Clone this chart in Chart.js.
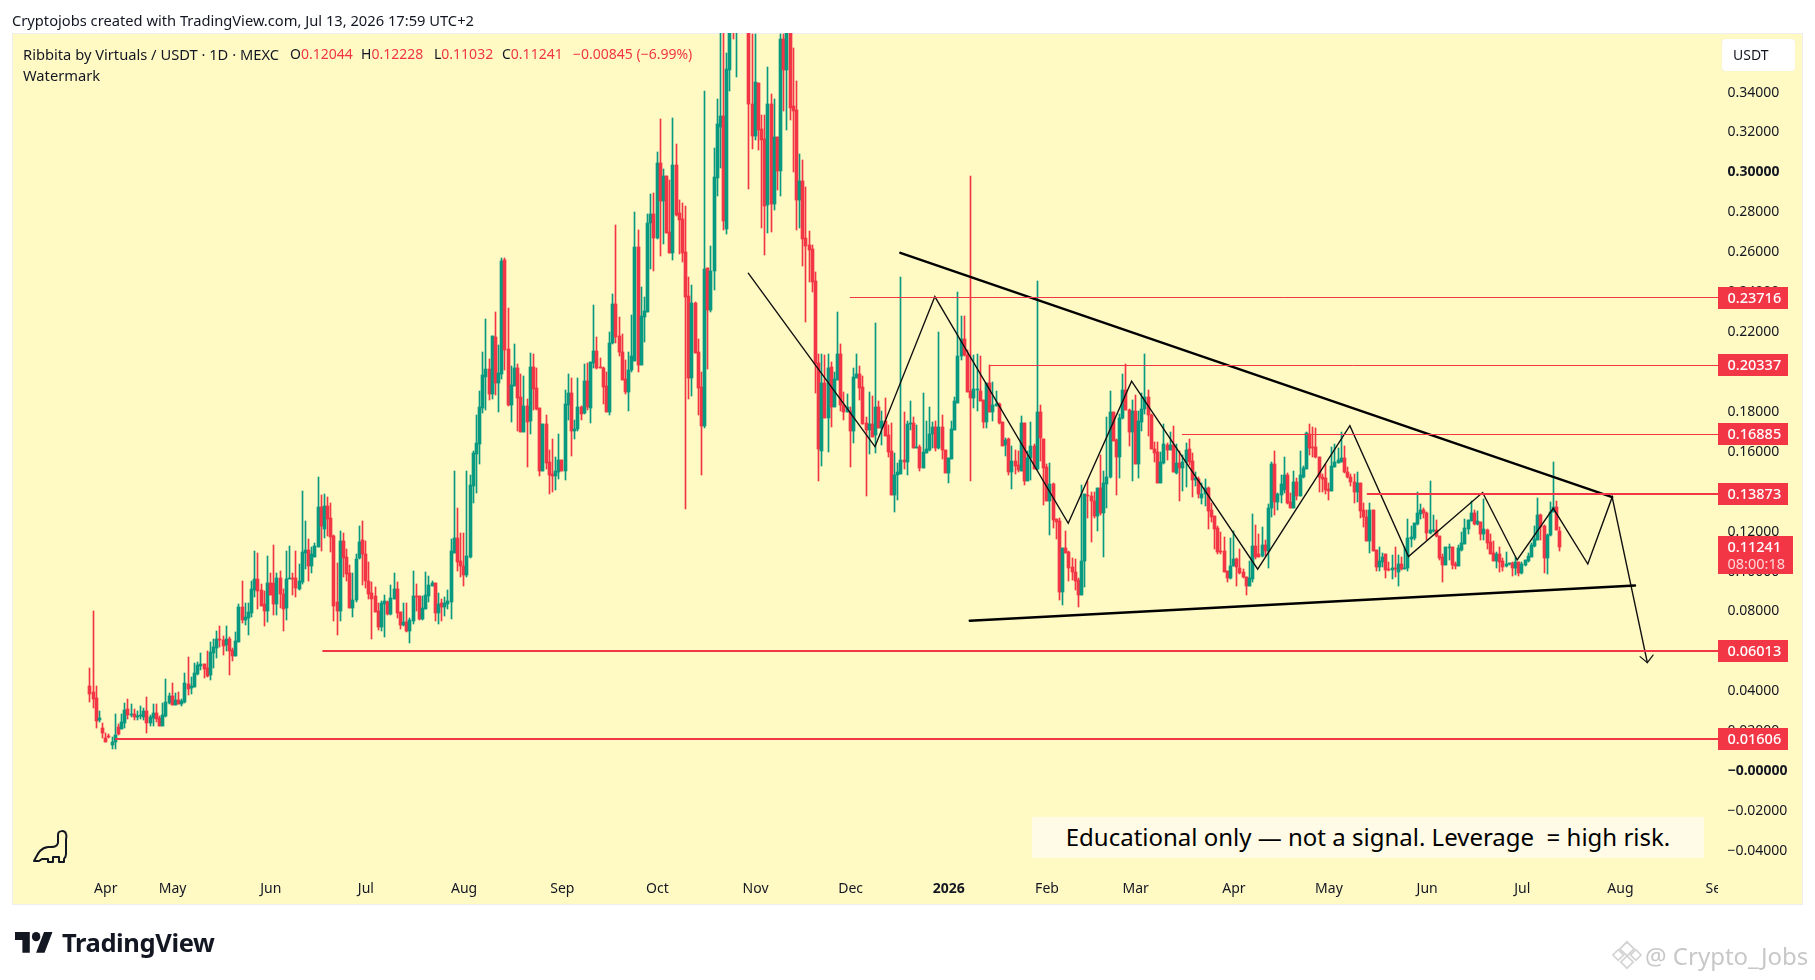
<!DOCTYPE html>
<html><head><meta charset="utf-8">
<script src="https://cdn.jsdelivr.net/npm/chart.js@4"></script>
<style>
html,body{margin:0;padding:0;background:#fff;width:1815px;height:980px;overflow:hidden}
body{font-family:"Noto Sans",sans-serif;color:#131722;position:relative}
#panel{position:absolute;left:13px;top:34px;width:1789px;height:870px;background:#FFF9C4;box-shadow:0 0 0 1px #eeeeee}
canvas{position:absolute;left:0;top:0}
.t{position:absolute;white-space:pre;font-size:14.7px;line-height:18px;z-index:3}
.v{font-size:14px}
.r{color:#F23645}
#usdt{position:absolute;left:1722px;top:39px;width:73px;height:32px;background:#fff;border-radius:4px;z-index:3;font-size:14px;line-height:32px;text-indent:11px;box-shadow:0 0 1px #ddd}
#edu{position:absolute;left:1032px;top:817px;width:672px;height:41px;background:#FFFBE6;z-index:3;text-align:center;font-size:24px;line-height:40px;color:#000;white-space:pre}
#brand{position:absolute;left:62px;top:924px;font-size:25.5px;font-weight:700;line-height:36px;color:#131722;z-index:3;letter-spacing:-.4px}
#wm{position:absolute;left:1645px;top:938px;font-size:24px;line-height:36px;color:#c8c8c8;z-index:3;white-space:pre}
svg{position:absolute;z-index:3}
</style></head><body>
<div id="panel"></div>
<canvas id="c" width="1815" height="980"></canvas>
<div class="t" style="left:12px;top:11px">Cryptojobs created with TradingView.com, Jul 13, 2026 17:59 UTC+2</div>
<div class="t" style="left:23px;top:45px">Ribbita by Virtuals / USDT · 1D · MEXC</div>
<div class="t v" style="left:290px;top:45px">O<span class="r">0.12044</span></div>
<div class="t v" style="left:361px;top:45px">H<span class="r">0.12228</span></div>
<div class="t v" style="left:434px;top:45px">L<span class="r">0.11032</span></div>
<div class="t v" style="left:502px;top:45px">C<span class="r">0.11241</span></div>
<div class="t v r" style="left:573px;top:45px">−0.00845 (−6.99%)</div>
<div class="t" style="left:23px;top:66px">Watermark</div>
<div id="usdt">USDT</div>
<div id="edu">Educational only — not a signal. Leverage  = high risk.</div>
<svg style="left:32px;top:830px" width="36" height="34" viewBox="0 0 36 34" fill="none" stroke="#131722" stroke-width="2" stroke-linejoin="round"><path d="M2 31c3-5 5-13 14-14 6 0 9 0 10-4V5c0-5 7-5 8-1 1 2 0 4 0 6v14c0 2-1 4-2 5v3h-5v-5h-6v5h-5v-3H10l-3 2z"/></svg>
<svg style="left:15px;top:932px" width="38" height="22" viewBox="0 4 36 19" preserveAspectRatio="none" fill="#131722"><path d="M14 22H7V11H0V4h14v18zM28 22h-8l7.5-18h8L28 22z"/><circle cx="20" cy="8" r="4"/></svg>
<div id="brand">TradingView</div>
<svg style="left:1612px;top:940px" width="30" height="30" viewBox="0 0 34 32" fill="none" stroke="#d4d4d4" stroke-width="2"><path d="M17 1l8 8-8 8-8-8zM7 10l6 6-6 6-6-6zM27 10l6 6-6 6-6-6zM17 17l7 7-7 7-7-7z"/></svg>
<div id="wm">@ Crypto_Jobs</div>
<script>
// Daily candles, one list per month: [open, high, low, close]
const apr25=[[.0427,.0515,.0348,.0388],[.0397,.0803,.0317,.0362],[.0367,.0427,.0218,.0253],[.0257,.0302,.0248,.0267],[.0217,.0240,.0168,.0191],[.0166,.0191,.0146,.0146],[.0176,.0186,.0164,.0171],[.0131,.0171,.0111,.0146],[.0146,.0287,.0111,.0181],[.0222,.0237,.0181,.0186],[.0213,.0287,.0213,.0247],[.0243,.0340,.0216,.0307],[.0312,.0362,.0262,.0282],[.0282,.0337,.0272,.0287],[.0287,.0312,.0257,.0272],[.0272,.0302,.0257,.0277],[.0277,.0327,.0262,.0282],[.0272,.0317,.0257,.0302],[.0302,.0372,.0191,.0242],[.0242,.0282,.0227,.0272],[.0267,.0337,.0227,.0292],[.0292,.0337,.0247,.0262],[.0267,.0277,.0227,.0227],[.0227,.0342,.0227,.0282],[.0277,.0462,.0272,.0347],[.0342,.0392,.0337,.0377]];
const may25=[[.0377,.0442,.0332,.0332],[.0332,.0392,.0332,.0357],[.0357,.0397,.0337,.0337],[.0337,.0362,.0327,.0352],[.0347,.0492,.0342,.0442],[.0437,.0572,.0382,.0412],[.0417,.0472,.0387,.0427],[.0422,.0542,.0422,.0492],[.0487,.0547,.0482,.0532],[.0527,.0592,.0507,.0537],[.0537,.0537,.0467,.0512],[.0517,.0602,.0472,.0477],[.0482,.0647,.0457,.0597],[.0592,.0662,.0517,.0622],[.0617,.0702,.0567,.0662],[.0662,.0727,.0622,.0657],[.0657,.0677,.0582,.0627],[.0632,.0727,.0602,.0662],[.0662,.0672,.0482,.0602],[.0607,.0617,.0552,.0577],[.0577,.0697,.0577,.0652],[.0647,.0838,.0647,.0823],[.0823,.0953,.0743,.0758],[.0758,.0843,.0733,.0773],[.0768,.0843,.0682,.0798],[.0793,.0953,.0773,.0913],[.0908,.1103,.0873,.0963],[.0963,.1093,.0813,.0903],[.0908,.0938,.0828,.0828],[.0838,.0903,.0727,.0803],[.0803,.1078,.0748,.0943]];
const jun25=[[.0943,.0993,.0883,.0883],[.0943,.1133,.0783,.0838],[.0838,.0993,.0783,.0968],[.0968,.1003,.0818,.0888],[.0888,.0913,.0703,.0813],[.0818,.1103,.0758,.0963],[.0963,.1128,.0963,.0968],[.0968,.0993,.0883,.0963],[.0968,.1103,.0873,.0918],[.0913,.1038,.0908,.0953],[.0948,.1404,.0938,.1098],[.1093,.1254,.1013,.1108],[.1108,.1164,.0953,.1028],[.1028,.1124,.0993,.1088],[.1073,.1144,.1073,.1129],[.1124,.1474,.1124,.1324],[.1324,.1384,.1104,.1229],[.1214,.1389,.1169,.1329],[.1329,.1374,.1179,.1264],[.1269,.1344,.1098,.1174],[.1179,.1184,.0753,.0828],[.0848,.1043,.0683,.0803],[.0803,.1204,.0753,.1154],[.1154,.1194,.0973,.1068],[.1073,.1113,.0953,.0988],[.0993,.1033,.0818,.0818],[.0818,.0993,.0773,.0858],[.0858,.1088,.0848,.1063],[.1068,.1229,.1063,.1149],[.1159,.1254,.0933,.1088]];
const jul25=[[.1088,.1154,.0918,.0953],[.0953,.1048,.0863,.0888],[.0893,.0948,.0663,.0863],[.0878,.0923,.0798,.0798],[.0803,.0843,.0708,.0723],[.0723,.0853,.0703,.0843],[.0838,.0883,.0673,.0853],[.0848,.0853,.0783,.0788],[.0788,.0933,.0783,.0868],[.0863,.0993,.0863,.0913],[.0913,.0948,.0768,.0793],[.0798,.0798,.0713,.0733],[.0733,.0843,.0728,.0748],[.0748,.0843,.0698,.0703],[.0703,.0768,.0643,.0758],[.0753,.1003,.0738,.0878],[.0878,.0938,.0803,.0873],[.0878,.0878,.0758,.0763],[.0763,.0878,.0758,.0818],[.0813,.0998,.0813,.0883],[.0878,.0978,.0848,.0933],[.0928,.0953,.0928,.0943],[.0943,.0943,.0753,.0793],[.0793,.0893,.0738,.0838],[.0843,.0863,.0753,.0823],[.0823,.0873,.0778,.0843],[.0838,.0908,.0813,.0853],[.0848,.1164,.0763,.1103],[.1093,.1504,.1093,.1169],[.1169,.1319,.1003,.1048],[.1053,.1192,.0975,.1030]];
const aug25=[[.1030,.1192,.0928,.0983],[.0983,.1505,.0975,.1078],[.1075,.1484,.1067,.1434],[.1429,.1605,.1343,.1595],[.1590,.1785,.1396,.1645],[.1640,.1905,.1540,.1825],[.1820,.2101,.1793,.1986],[.1976,.2266,.1810,.2016],[.2016,.2066,.1860,.1890],[.1890,.2181,.1865,.2181],[.2176,.2301,.1885,.1945],[.1945,.2136,.1800,.1996],[.1991,.2572,.1966,.2557],[.2562,.2572,.2011,.2111],[.2116,.2321,.1830,.1835],[.1835,.2031,.1750,.1935],[.1930,.2141,.1930,.2021],[.2021,.2041,.1705,.1870],[.1875,.1991,.1700,.1700],[.1700,.1981,.1700,.1830],[.1830,.1865,.1525,.1750],[.1755,.2096,.1690,.2026],[.2026,.2091,.1810,.1915],[.1920,.2021,.1810,.1815],[.1820,.1820,.1480,.1505],[.1505,.1740,.1505,.1740],[.1740,.1785,.1515,.1545],[.1550,.1610,.1390,.1485],[.1490,.1665,.1400,.1480],[.1480,.1575,.1410,.1505],[.1500,.1690,.1465,.1560]];
const sep25=[[.1560,.1560,.1505,.1505],[.1505,.1910,.1460,.1840],[.1835,.1991,.1760,.1895],[.1895,.1971,.1580,.1705],[.1705,.1760,.1665,.1715],[.1715,.1971,.1705,.1825],[.1825,.1830,.1760,.1790],[.1795,.2041,.1790,.1955],[.1955,.2044,.1810,.1825],[.1820,.2051,.1745,.2051],[.2046,.2336,.2021,.2106],[.2106,.2176,.2016,.2021],[.2026,.2071,.2021,.2021],[.2021,.2026,.1840,.1925],[.1930,.2001,.1800,.1800],[.1800,.2201,.1785,.2146],[.2146,.2391,.2141,.2341],[.2341,.2737,.2146,.2176],[.2181,.2276,.2081,.2101],[.2101,.2191,.1961,.1961],[.1966,.2061,.1890,.1900],[.1900,.2101,.1805,.2011],[.2011,.2286,.2001,.2081],[.2056,.2802,.2056,.2627],[.2627,.2712,.2001,.2036],[.2036,.2426,.2036,.2281],[.2276,.2376,.2151,.2306],[.2301,.2792,.2301,.2747],[.2747,.2893,.2517,.2792],[.2792,.2896,.2508,.2672]];
const oct25=[[.2672,.3103,.2667,.3048],[.3048,.3268,.2582,.2857],[.2857,.3018,.2642,.2983],[.2983,.2983,.2695,.2697],[.2702,.2963,.2597,.2597],[.2597,.3273,.2562,.3038],[.3038,.3143,.2782,.2787],[.2797,.2862,.2592,.2762],[.2767,.2847,.2552,.2597],[.2602,.2832,.1314,.2376],[.2381,.2476,.1865,.1971],[.1971,.2436,.1880,.2346],[.2346,.2351,.2096,.2096],[.2101,.2166,.1785,.1920],[.1925,.2001,.1485,.1730],[.1730,.3408,.1720,.2517],[.2522,.2522,.2016,.2311],[.2311,.2632,.2301,.2507],[.2507,.3123,.2411,.2978],[.2973,.3368,.2882,.3243],[.3228,.3800,.3023,.3283],[.3283,.3800,.2712,.2757],[.2717,.3599,.2692,.3519],[.3514,.4200,.3408,.3950],[.3950,.4400,.3669,.3750],[.3750,.4300,.3479,.4150],[.4150,.4500,.3850,.4000],[.4000,.4600,.3900,.4400],[.4400,.4550,.3850,.3950],[.3950,.4100,.2917,.3343],[.3343,.3694,.3118,.3183]];
const nov25=[[.3183,.3694,.3163,.3453],[.3448,.3448,.3113,.3213],[.3218,.3288,.2722,.3163],[.3168,.3288,.2587,.2832],[.2837,.3529,.2697,.3343],[.3343,.3393,.2702,.2842],[.2842,.3368,.2812,.3178],[.3178,.3178,.2912,.3008],[.3008,.3694,.2882,.3669],[.3669,.3694,.3308,.3514],[.3514,.3850,.3213,.3750],[.3750,.3850,.3263,.3323],[.3333,.3624,.3003,.3308],[.3313,.3459,.2712,.2862],[.2862,.3093,.2722,.2958],[.2958,.3063,.2532,.2667],[.2672,.2927,.2251,.2632],[.2637,.2707,.2451,.2612],[.2617,.2637,.2401,.2451],[.2456,.2501,.1895,.2041],[.2046,.2091,.1454,.1615],[.1605,.2091,.1530,.1945],[.1945,.2086,.1770,.1770],[.1770,.2091,.1600,.2021],[.2026,.2051,.1725,.1825],[.1825,.2001,.1825,.1966],[.1961,.2301,.1961,.2091],[.2091,.2141,.1806,.1836],[.1836,.1901,.1761,.1801],[.1801,.1891,.1801,.1826]];
const dec25=[[.1806,.1826,.1525,.1705],[.1705,.2021,.1645,.1976],[.1971,.2091,.1971,.1991],[.1991,.2031,.1861,.1921],[.1926,.1981,.1740,.1740],[.1745,.1776,.1380,.1710],[.1710,.1901,.1590,.1740],[.1740,.1881,.1675,.1675],[.1685,.2246,.1595,.1826],[.1826,.1856,.1720,.1720],[.1720,.1806,.1635,.1755],[.1755,.1871,.1680,.1680],[.1685,.1735,.1575,.1600],[.1605,.1745,.1385,.1385],[.1385,.1595,.1300,.1485],[.1485,.1545,.1360,.1500],[.1490,.2477,.1490,.1560],[.1560,.1801,.1515,.1550],[.1550,.1755,.1485,.1740],[.1740,.1856,.1710,.1745],[.1745,.1776,.1620,.1620],[.1620,.1735,.1620,.1625],[.1625,.1635,.1505,.1520],[.1520,.1896,.1520,.1600],[.1595,.1755,.1595,.1615],[.1610,.1826,.1605,.1690],[.1690,.1750,.1620,.1725],[.1725,.1755,.1605,.1620],[.1620,.2201,.1615,.1725],[.1725,.1785,.1565,.1610],[.1610,.1610,.1495,.1495]];
const jan26=[[.1495,.1570,.1445,.1570],[.1565,.1755,.1565,.1715],[.1710,.1876,.1710,.1856],[.1846,.2402,.1846,.2081],[.2081,.2281,.2061,.2166],[.2166,.2281,.2081,.2086],[.2086,.2111,.1901,.1901],[.1906,.2983,.1455,.1871],[.1871,.2086,.1821,.1916],[.1911,.2091,.1806,.1916],[.1906,.2081,.1856,.1856],[.1861,.1861,.1720,.1750],[.1750,.1946,.1720,.1946],[.1946,.2034,.1801,.1801],[.1801,.1951,.1755,.1836],[.1831,.1906,.1831,.1841],[.1841,.1846,.1740,.1745],[.1750,.1750,.1630,.1630],[.1635,.1670,.1580,.1660],[.1665,.1670,.1485,.1500],[.1500,.1630,.1415,.1555],[.1555,.1610,.1490,.1530],[.1535,.1605,.1500,.1510],[.1505,.1780,.1505,.1745],[.1745,.1745,.1435,.1455],[.1455,.1605,.1455,.1570],[.1570,.1750,.1460,.1630],[.1630,.1640,.1515,.1515],[.1515,.2457,.1510,.1800],[.1800,.1835,.1555,.1670],[.1665,.1665,.1334,.1520]];
const feb26=[[.1525,.1540,.1354,.1354],[.1354,.1545,.1184,.1440],[.1440,.1445,.1219,.1259],[.1264,.1264,.1164,.1249],[.1254,.1269,.0858,.0898],[.0898,.1119,.0833,.1119],[.1119,.1204,.1094,.1094],[.1099,.1104,.0953,.1019],[.1024,.1069,.0958,.0999],[.0999,.1064,.0908,.0953],[.0958,.0968,.0823,.0883],[.0883,.1434,.0883,.1054],[.1054,.1389,.0923,.1389],[.1384,.1454,.1269,.1379],[.1379,.1399,.1149,.1354],[.1354,.1399,.1269,.1279],[.1279,.1419,.1204,.1419],[.1419,.1585,.1284,.1294],[.1294,.1505,.1074,.1444],[.1440,.1775,.1319,.1474],[.1475,.1905,.1470,.1800],[.1800,.1800,.1655,.1655],[.1660,.1665,.1384,.1575],[.1575,.1790,.1470,.1770],[.1770,.1991,.1765,.1910],[.1910,.2041,.1810,.1810],[.1810,.1815,.1630,.1700],[.1700,.1860,.1455,.1805]];
const mar26=[[.1805,.1885,.1540,.1540],[.1540,.1805,.1470,.1755],[.1750,.1895,.1705,.1815],[.1815,.2091,.1790,.1875],[.1875,.1910,.1680,.1785],[.1785,.1790,.1615,.1615],[.1615,.1650,.1550,.1595],[.1600,.1650,.1445,.1445],[.1445,.1600,.1445,.1550],[.1545,.1740,.1540,.1640],[.1635,.1645,.1560,.1610],[.1610,.1700,.1610,.1635],[.1635,.1730,.1500,.1500],[.1495,.1640,.1490,.1545],[.1545,.1605,.1354,.1520],[.1520,.1585,.1404,.1550],[.1550,.1645,.1424,.1610],[.1615,.1665,.1535,.1550],[.1555,.1595,.1374,.1460],[.1460,.1500,.1430,.1470],[.1465,.1475,.1370,.1390],[.1370,.1445,.1340,.1390],[.1390,.1465,.1330,.1420],[.1420,.1425,.1214,.1304],[.1309,.1344,.1249,.1274],[.1279,.1279,.1114,.1214],[.1219,.1229,.1088,.1098],[.1103,.1199,.1088,.1098],[.1103,.1174,.0998,.0998],[.1003,.1003,.0948,.0968],[.0968,.1169,.0963,.1028]];
const apr26=[[.1028,.1204,.1028,.1063],[.1063,.1068,.0928,.1023],[.1018,.1113,.0988,.0993],[.0998,.1013,.0968,.0973],[.0973,.0973,.0883,.0928],[.0928,.1053,.0928,.0968],[.0963,.1289,.0948,.1129],[.1129,.1234,.1063,.1073],[.1088,.1189,.1073,.1073],[.1078,.1224,.1073,.1134],[.1134,.1159,.1078,.1103],[.1103,.1339,.1018,.1319],[.1319,.1549,.1274,.1539],[.1539,.1604,.1284,.1349],[.1349,.1394,.1309,.1389],[.1384,.1484,.1344,.1439],[.1409,.1574,.1394,.1484],[.1484,.1494,.1339,.1344],[.1349,.1394,.1319,.1319],[.1319,.1504,.1319,.1449],[.1449,.1469,.1359,.1379],[.1379,.1604,.1379,.1484],[.1474,.1529,.1469,.1519],[.1514,.1700,.1514,.1695],[.1690,.1740,.1584,.1619],[.1624,.1725,.1574,.1619],[.1624,.1720,.1569,.1574],[.1574,.1574,.1399,.1474],[.1474,.1489,.1399,.1464],[.1469,.1539,.1389,.1409]];
const may26=[[.1414,.1444,.1359,.1404],[.1404,.1624,.1404,.1529],[.1524,.1639,.1524,.1549],[.1544,.1619,.1544,.1559],[.1549,.1700,.1549,.1569],[.1569,.1629,.1494,.1499],[.1499,.1524,.1469,.1474],[.1474,.1489,.1429,.1449],[.1449,.1489,.1344,.1399],[.1399,.1499,.1349,.1444],[.1444,.1444,.1269,.1304],[.1309,.1344,.1224,.1274],[.1274,.1309,.1154,.1154],[.1154,.1344,.1093,.1309],[.1309,.1309,.1103,.1103],[.1108,.1108,.1003,.1023],[.1023,.1124,.1003,.1053],[.1048,.1093,.1023,.1073],[.1088,.1088,.0968,.1008],[.1014,.1048,.1002,.1009],[.1009,.1084,.0963,.1019],[.1019,.1124,.0975,.1014],[.0999,.1084,.0928,.1039],[.1039,.1073,.1009,.1014],[.1014,.1124,.1014,.1019],[.1019,.1264,.1004,.1169],[.1164,.1229,.1124,.1174],[.1169,.1244,.1159,.1244],[.1239,.1399,.1234,.1294],[.1289,.1339,.1264,.1309],[.1309,.1319,.1269,.1294]];
const jun26=[[.1294,.1299,.1159,.1194],[.1194,.1454,.1189,.1209],[.1204,.1284,.1199,.1209],[.1209,.1259,.1174,.1179],[.1179,.1179,.1059,.1069],[.1074,.1089,.0949,.1034],[.1034,.1124,.1034,.1124],[.1119,.1139,.1059,.1124],[.1124,.1124,.1014,.1034],[.1039,.1049,.1014,.1029],[.1029,.1134,.1029,.1119],[.1109,.1199,.1104,.1144],[.1139,.1264,.1139,.1219],[.1214,.1259,.1189,.1259],[.1254,.1354,.1254,.1294],[.1294,.1309,.1234,.1239],[.1239,.1304,.1234,.1254],[.1249,.1249,.1159,.1189],[.1189,.1364,.1159,.1214],[.1209,.1214,.1114,.1144],[.1149,.1189,.1089,.1089],[.1094,.1154,.1054,.1054],[.1054,.1099,.1019,.1089],[.1089,.1124,.0999,.1049],[.1054,.1069,.1004,.1024],[.1029,.1099,.1024,.1039],[.1039,.1044,.1034,.1044],[.1044,.1049,.0979,.1019],[.1019,.1074,.0984,.1049],[.1049,.1049,.0979,.0994]];
const jul26=[[.0994,.1049,.0989,.1039],[.1034,.1059,.1029,.1059],[.1054,.1094,.1049,.1079],[.1074,.1144,.1074,.1134],[.1129,.1229,.1124,.1164],[.1159,.1369,.1159,.1284],[.1284,.1289,.1159,.1224],[.1229,.1234,.0994,.1069],[.1069,.1189,.0989,.1184],[.1184,.1349,.1179,.1299],[.1299,.1549,.1299,.1324],[.1324,.1354,.1209,.12086],[.12044,.12228,.11032,.11241]];

// Axis labels: bar number of each month start, and price ticks
const monthNames=["Apr","May","Jun","Jul","Aug","Sep","Oct","Nov","Dec","2026","Feb","Mar","Apr","May","Jun","Jul","Aug","Sep"];
const monthBars=[4.9,26,57,87,118,149,179,210,240,271,302,330,361,391,422,452,483,513.7];
const priceTicks=[.34,.32,.30,.28,.26,.24,.22,.20,.18,.16,.14,.12,.10,.08,.06,.04,.02,0,-.02,-.04];

// Horizontal levels: price and the bar where the line begins
const levelPrices=[.23716,.20337,.16885,.13873,.06013,.01606];
const levelStarts=[239.8,283.7,344.6,403.2,73.5,8.1];
const levelWidths=[1,1,1,2,2,2];
const lastPrice=.11241, countdown="08:00:18";

// Drawn trend lines: [bar, price]
const trendTop=[[255.7,.2597],[480.4,.1373]];
const trendBottom=[[277.6,.0754],[487.6,.0930]];
const zigzag=[[207.7,.2495],[247.7,.1626],[266.6,.2378],[308.7,.1242],[328.7,.1954],[368.5,.1012],[397.6,.1731],[416.1,.1075],[439.5,.1396],[450.4,.1058],[461.8,.1317],[472.7,.1038],[480.4,.1373],[491.5,.0544]];
const arrowHead=[[489.2,.0574],[491.5,.0544],[493.3,.0582]];

const GREEN="#089981",RED="#F23645",BG="#FFF9C4",INK="#131722";
const FONT='"Noto Sans",sans-serif';
const bars=[...apr25,...may25,...jun25,...jul25,...aug25,...sep25,...oct25,...nov25,...dec25,...jan26,...feb26,...mar26,...apr26,...may26,...jun26,...jul26];
const colours=bars.map(b=>b[3]>=b[0]?GREEN:RED);
const X_MIN=-24.7,X_MAX=513.8,Y_MIN=-.04851,Y_MAX=.36985;

const lineSet=(pts,width,colour,level)=>({type:"line",data:pts.map(p=>({x:p[0],y:p[1]})),borderColor:colour,borderWidth:width,pointRadius:0,tension:0,order:1,fill:false,borderCapStyle:"round",borderJoinStyle:"miter",isLevel:!!level});

// Snap candles and level lines to whole pixels after the scales have placed them
const crisp={id:"crisp",afterDatasetsUpdate(chart){
  chart.data.datasets.forEach((ds,k)=>{
    const meta=chart.getDatasetMeta(k);
    if(k<2){
      meta.data.forEach(el=>{
        el.x=Math.floor(el.x-.3)+.5;
        const a=Math.round(el.y),b=Math.round(el.base);
        el.y=a;el.base=b===a?a+1:b;
      });
    }else if(ds.isLevel){
      const odd=ds.borderWidth%2===1;
      meta.data.forEach(el=>{el.y=odd?Math.floor(el.y)+.5:Math.round(el.y);});
    }
  });
}};

const overlay={id:"overlay",afterDraw(chart){
  const {ctx,scales:{y}}=chart;
  ctx.save();
  ctx.fillStyle=BG;ctx.fillRect(1718,869,84,35);
  ctx.textBaseline="middle";ctx.textAlign="left";
  levelPrices.forEach(p=>{
    const py=y.getPixelForValue(p);
    ctx.fillStyle=RED;ctx.fillRect(1718,Math.round(py)-11,70,22);
    ctx.fillStyle="#fff";ctx.font='500 14.5px '+FONT;
    ctx.fillText(p.toFixed(5),1727.5,py+1);
  });
  const py=y.getPixelForValue(lastPrice);
  ctx.fillStyle=RED;ctx.fillRect(1718,Math.round(py)-11,75,38);
  ctx.fillStyle="#fff";ctx.font='500 14.5px '+FONT;
  ctx.fillText(lastPrice.toFixed(5),1727.5,py+1);
  ctx.globalAlpha=.8;ctx.font='14.5px '+FONT;
  ctx.fillText(countdown,1727.5,py+18);
  ctx.restore();
}};

new Chart(document.getElementById("c"),{
  type:"bar",
  plugins:[crisp,overlay],
  data:{datasets:[
    {data:bars.map((b,i)=>({x:i,y:[b[2],b[1]]})),backgroundColor:colours,barThickness:1,grouped:false,order:3},
    {data:bars.map((b,i)=>({x:i,y:[b[0],b[3]]})),backgroundColor:colours,barThickness:3,minBarLength:1,grouped:false,order:2},
    ...levelPrices.map((p,k)=>lineSet([[levelStarts[k],p],[X_MAX,p]],levelWidths[k],RED,true)),
    lineSet(trendTop,2.4,"#000"),
    lineSet(trendBottom,2.4,"#000"),
    lineSet(zigzag,1.4,"#111"),
    lineSet(arrowHead,1.2,"#111")
  ]},
  options:{
    responsive:false,animation:false,devicePixelRatio:1,
    layout:{padding:{left:12,top:33,right:12.4,bottom:75}},
    plugins:{legend:{display:false},tooltip:{enabled:false}},
    scales:{
      x:{type:"linear",offset:false,min:X_MIN,max:X_MAX,
        grid:{display:false,drawTicks:false},border:{display:false},
        afterBuildTicks(s){s.ticks=monthBars.map(v=>({value:v}));},
        afterFit(s){s.height=37;},
        ticks:{autoSkip:false,maxRotation:0,padding:13,color:INK,
          font:c=>({family:FONT,size:14,weight:(c.tick&&c.tick.value===271)?"700":"400"}),
          callback:v=>monthNames[monthBars.indexOf(v)]}},
      y:{type:"linear",position:"right",min:Y_MIN,max:Y_MAX,
        grid:{display:false,drawTicks:false},border:{display:false},
        afterBuildTicks(s){s.ticks=priceTicks.map(v=>({value:v}));},
        afterFit(s){s.width=84.6;},
        ticks:{autoSkip:false,padding:9.5,crossAlign:"near",color:INK,
          font:c=>{const v=c.tick?c.tick.value:1;return {family:FONT,size:14,weight:(v===.3||v===0)?"700":"400"};},
          callback:v=>(v<=0?"−":"")+Math.abs(v).toFixed(5)}}
    }
  }
});
</script>
</body></html>
